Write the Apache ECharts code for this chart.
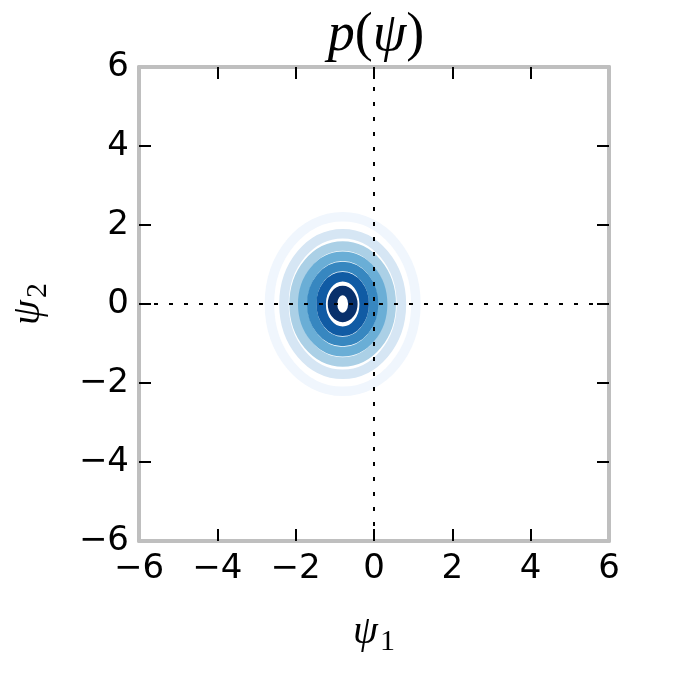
<!DOCTYPE html>
<html>
<head>
<meta charset="utf-8">
<script src="https://cdn.jsdelivr.net/npm/echarts@6/dist/echarts.min.js"></script>
<style>
html,body{margin:0;padding:0;background:#fff;}
#chart{width:677px;height:677px;}
</style>
</head>
<body>
<div id="chart"></div>
<script>
// ---- data ----
const axisTicks = [-6, -4, -2, 0, 2, 4, 6];
const innerTicks = [-4, -2, 0, 2, 4];
const contourCenterX = -0.8;
const contourCenterY = 0;
// contour levels, outermost (lowest density) to innermost
const contourLevel = [1, 2, 3, 4, 5, 6, 7];
const contourRx = [1.87, 1.50, 1.24, 1.02, 0.79, 0.55, 0.26];
const contourRy = [2.21, 1.78, 1.47, 1.21, 0.95, 0.69, 0.34];
const refX = 0;
const refY = 0;

const blues = ['#f0f6fd', '#d6e6f4', '#abd0e6', '#6aaed6', '#3787c0', '#105ba4', '#08306b'];

const contourData = contourLevel.map((lv, i) => [contourCenterX, contourCenterY, contourRx[i], contourRy[i], lv]);

const chart = echarts.init(document.getElementById('chart'), null, {renderer: 'canvas'});

const frameColor = '#bfbfbf';
const tickStyle = {show: true, inside: true, length: 12, lineStyle: {color: '#000', width: 2}, customValues: innerTicks};
const labelFont = {fontFamily: 'DejaVu Sans', fontSize: 34, color: '#000'};
const mathRich = {
  i: {fontFamily: 'Liberation Serif', fontStyle: 'italic', fontWeight: 'normal', fontSize: 40, color: '#000'},
  s: {fontFamily: 'Liberation Serif', fontWeight: 'normal', fontSize: 30, color: '#000', padding: [20, 0, 0, 2]}
};
const titleRich = {
  i: {fontFamily: 'Liberation Serif', fontStyle: 'italic', fontWeight: 'normal', fontSize: 54, color: '#000'},
  r: {fontFamily: 'Liberation Serif', fontStyle: 'normal', fontWeight: 'normal', fontSize: 54, color: '#000'}
};

const option = {
  backgroundColor: '#fff',
  animation: false,
  title: {
    text: '{i|p}{r|(}{i|ψ}{r|)}',
    left: 371,
    top: 4,
    textAlign: 'center',
    textStyle: {fontWeight: 'normal', fontSize: 54, rich: titleRich}
  },
  grid: {left: 133, top: 67, width: 476, height: 474, containLabel: false},
  xAxis: [
    {
      type: 'value', min: -6, max: 6, interval: 2, position: 'bottom',
      axisLine: {show: true, onZero: false, lineStyle: {color: frameColor, width: 4}},
      axisTick: tickStyle,
      splitLine: {show: false},
      axisLabel: Object.assign({margin: 11, formatter: v => (v < 0 ? '\u2212' + Math.abs(v) : '' + v), customValues: axisTicks}, labelFont),
      name: '{i|ψ}{s|1}', nameLocation: 'middle', nameGap: 66,
      nameTextStyle: {rich: mathRich}
    },
    {
      type: 'value', min: -6, max: 6, interval: 2, position: 'top',
      axisLine: {show: true, onZero: false, lineStyle: {color: frameColor, width: 4}},
      axisTick: tickStyle, axisLabel: {show: false}, splitLine: {show: false}
    }
  ],
  yAxis: [
    {
      type: 'value', min: -6, max: 6, interval: 2, position: 'left',
      axisLine: {show: true, onZero: false, lineStyle: {color: frameColor, width: 4}},
      axisTick: tickStyle,
      splitLine: {show: false},
      axisLabel: Object.assign({margin: 10, formatter: v => (v < 0 ? '\u2212' + Math.abs(v) : '' + v), customValues: axisTicks}, labelFont),
      name: '{i|ψ}{s|2}', nameLocation: 'middle', nameGap: 86, nameRotate: 90,
      nameTextStyle: {rich: mathRich}
    },
    {
      type: 'value', min: -6, max: 6, interval: 2, position: 'right',
      axisLine: {show: true, onZero: false, lineStyle: {color: frameColor, width: 4}},
      axisTick: tickStyle, axisLabel: {show: false}, splitLine: {show: false}
    }
  ],
  series: [
    {
      type: 'custom',
      xAxisIndex: 0, yAxisIndex: 0,
      data: contourData,
      encode: {x: 0, y: 1},
      z: 2,
      renderItem: function (params, api) {
        const c = api.coord([api.value(0), api.value(1)]);
        const sz = api.size([api.value(2), api.value(3)]);
        const lv = api.value(4);
        return {
          type: 'ellipse',
          shape: {cx: c[0], cy: c[1], rx: sz[0], ry: sz[1]},
          style: {fill: null, stroke: blues[lv - 1], lineWidth: 9.5}
        };
      }
    },
    {
      type: 'line',
      xAxisIndex: 0, yAxisIndex: 0,
      data: [],
      z: 5,
      markLine: {
        silent: true,
        symbol: ['none', 'none'],
        label: {show: false},
        lineStyle: {color: '#000', width: 2, type: [4, 11]},
        data: [{xAxis: refX}, {yAxis: refY}]
      }
    }
  ]
};
chart.setOption(option);
</script>
</body>
</html>
